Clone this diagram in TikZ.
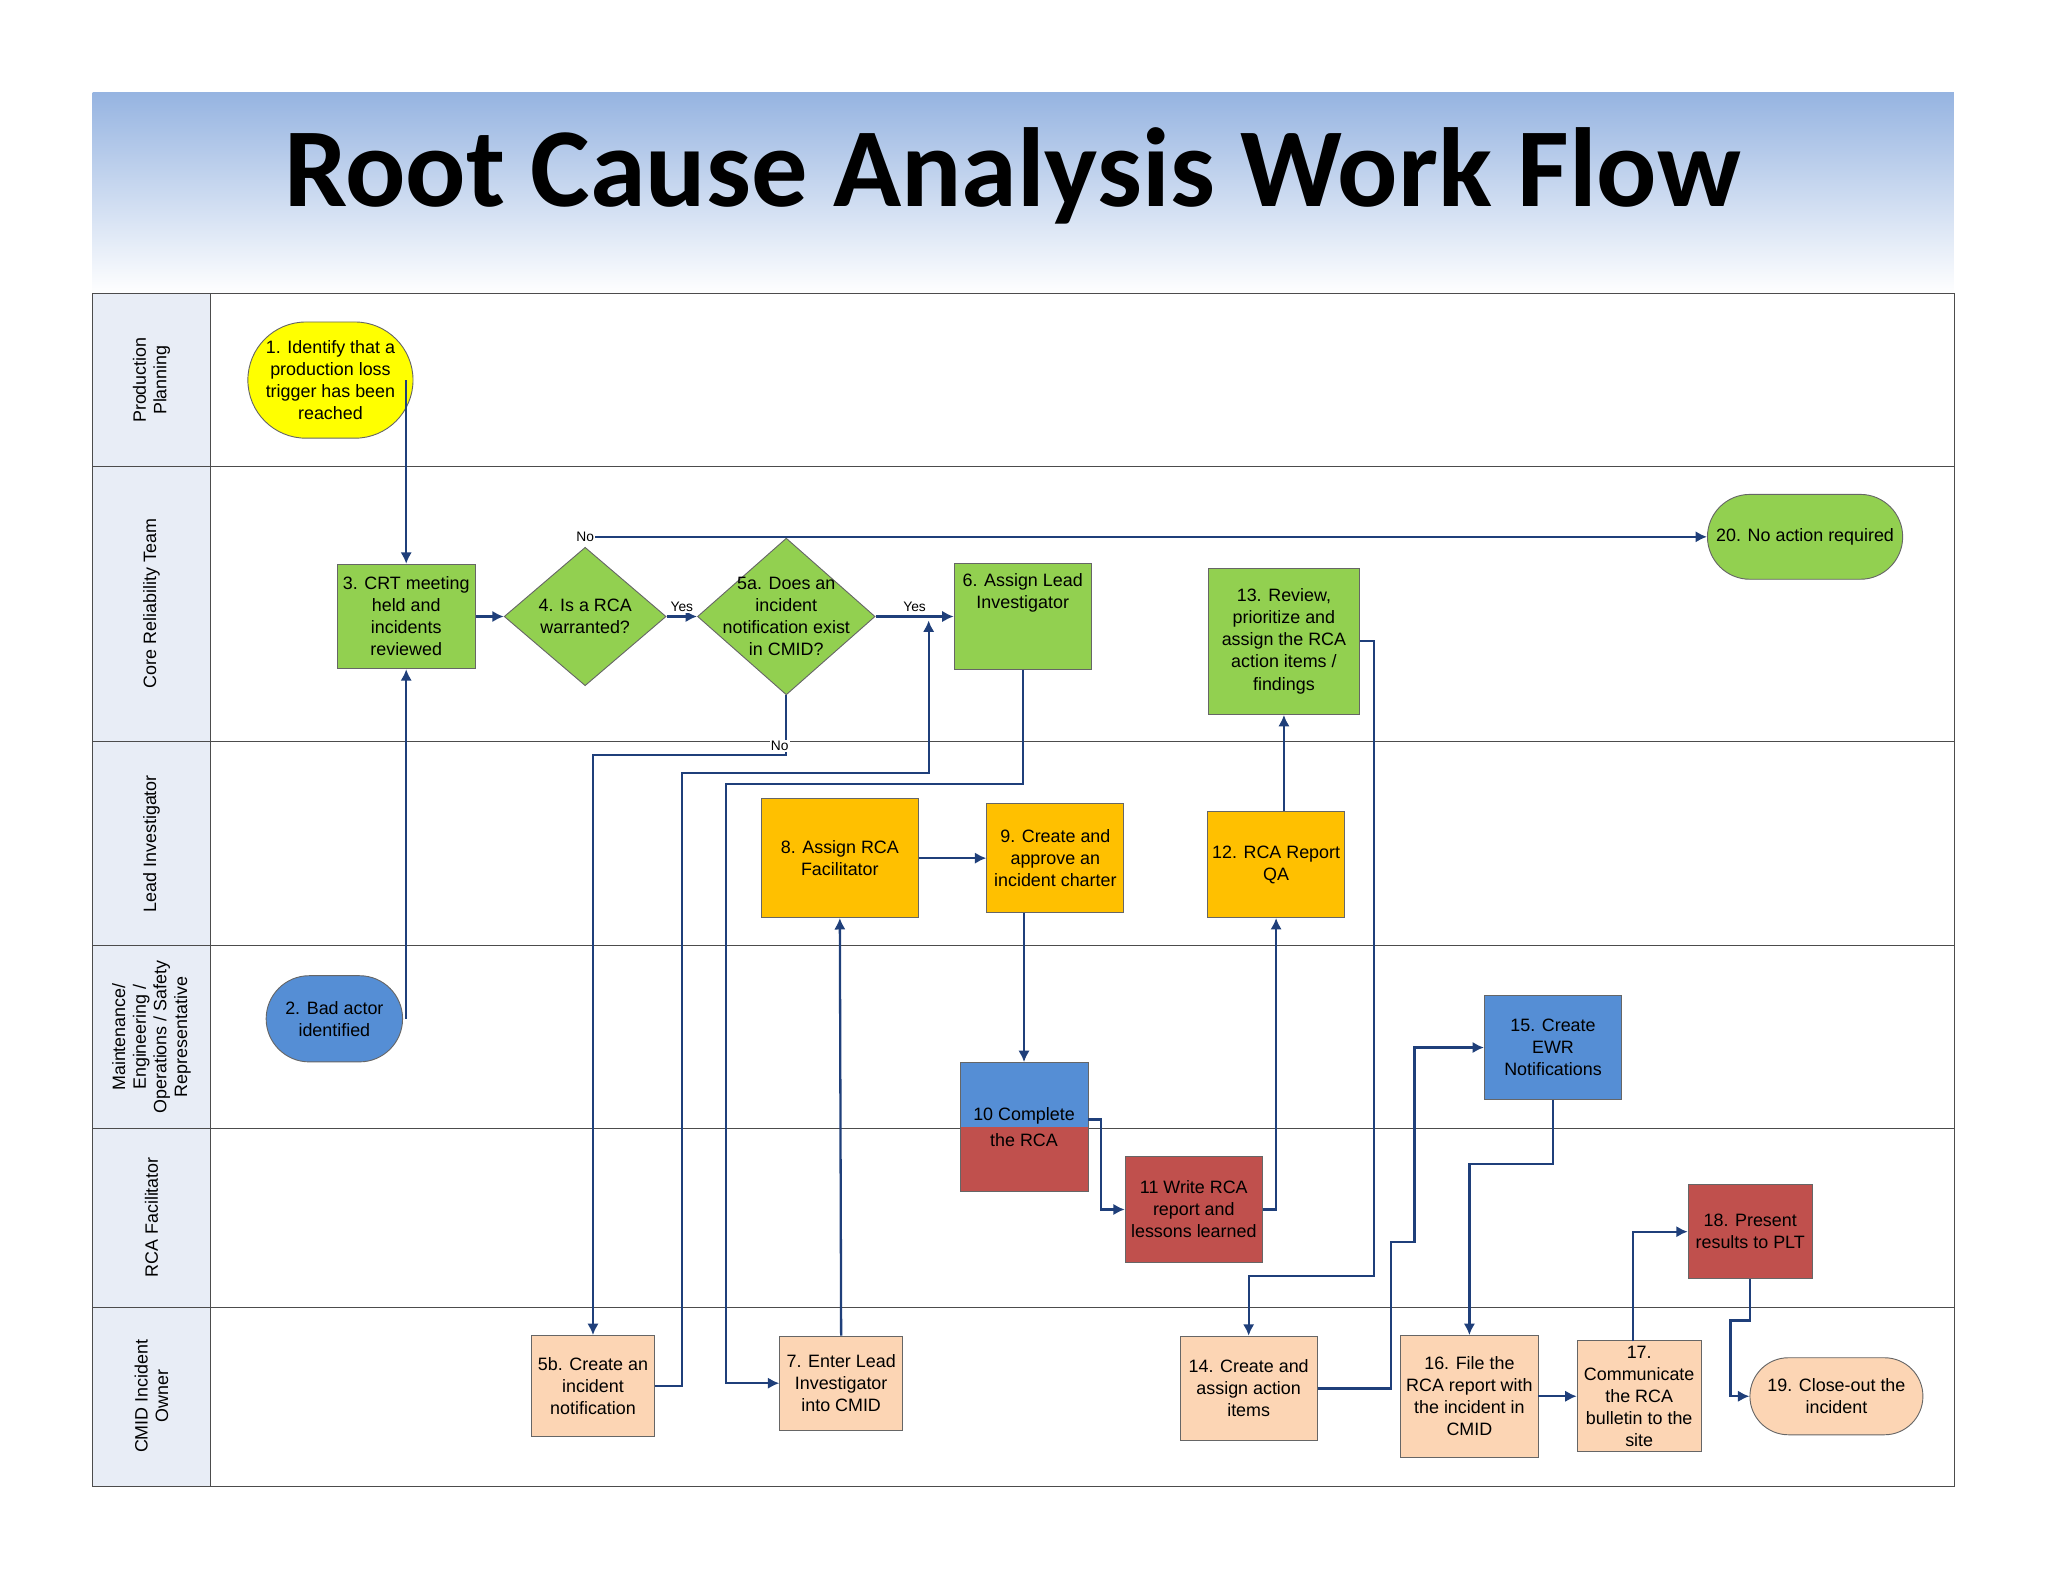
\documentclass[tikz,border=0pt]{standalone}
\usepackage{fontspec}
\setmainfont{Liberation Sans}
\newfontfamily\titlefont{Carlito}
\usetikzlibrary{shapes.geometric,shapes.misc,arrows.meta}

\definecolor{flowline}{RGB}{31,63,122}
\definecolor{stepgreen}{RGB}{146,208,80}
\definecolor{stepyellow}{RGB}{255,255,0}
\definecolor{steporange}{RGB}{255,192,0}
\definecolor{stepblue}{RGB}{85,142,213}
\definecolor{stepred}{RGB}{192,80,77}
\definecolor{steppeach}{RGB}{252,213,180}
\definecolor{lanefill}{RGB}{232,237,246}
\definecolor{titleblue}{RGB}{150,180,225}

\tikzset{
  wfbox/.style={draw=black!60, align=center, inner sep=1pt, font=\fontsize{7.8}{9.6}\selectfont},
  term/.style={wfbox, rounded rectangle},
  decide/.style={draw=black!60, fill=stepgreen, diamond, inner sep=0pt},
  flow/.style={draw=flowline, line width=1pt, -{Latex[length=5pt,width=5pt]}},
  tag/.style={font=\fontsize{6}{7}\selectfont, fill=white, inner sep=0.5pt},
  lane/.style={rotate=90, align=center, font=\fontsize{7.8}{9}\selectfont}
}

\begin{document}
\begin{tikzpicture}[x=0.02cm, y=-0.02cm]
\useasboundingbox (0,0) rectangle (1568,1211);

% title band
\shade[top color=titleblue, bottom color=white] (71,71) rectangle (1496,225);
\node[font=\titlefont\bfseries\fontsize{49}{55}\selectfont] (title) at (775,135) {Root Cause Analysis Work Flow};

% swim lanes
\fill[lanefill] (71,225) rectangle (161,1138);
\draw[black!70] (71,225) rectangle (1496,1138);
\draw[black!70] (161,225) -- (161,1138);
\foreach \y in {357,568,724,864,1001}
  \draw[black!70] (71,\y) -- (1496,\y);

\node[lane] (l1) at (116,291) {Production\\Planning};
\node[lane] (l2) at (116,462) {Core Reliability Team};
\node[lane] (l3) at (116,646) {Lead Investigator};
\node[lane] (l4) at (116,794) {Maintenance/\\Engineering /\\Operations / Safety\\Representative};
\node[lane] (l5) at (116,932) {RCA Facilitator};
\node[lane] (l6) at (116,1069) {CMID Incident\\Owner};

% steps
\node[term, fill=stepyellow, minimum width=2.32cm, minimum height=1.78cm] (n1) at (253,291) {1. Identify that a\\production loss\\trigger has been\\reached};
\node[term, fill=stepblue, minimum width=2.16cm, minimum height=1.32cm] (n2) at (256,780) {2. Bad actor\\identified};
\node[wfbox, fill=stepgreen, minimum width=2.12cm, minimum height=1.6cm] (n3) at (311,472) {3. CRT meeting\\held and\\incidents\\reviewed};
\node[decide, minimum width=2.48cm, minimum height=2.12cm, label={[font=\fontsize{7.8}{9.6}\selectfont, align=center]center:4. Is a RCA\\warranted?}] (n4) at (448,472) {};
\node[decide, minimum width=2.72cm, minimum height=2.4cm, label={[font=\fontsize{7.8}{9.6}\selectfont, align=center]center:5a. Does an\\incident\\notification exist\\in CMID?}] (n5a) at (602,472) {};
\node[wfbox, fill=stepgreen, minimum width=2.1cm, minimum height=1.62cm] (n6) at (783,472) {6. Assign Lead\\Investigator\\[1.6em]};
\node[wfbox, fill=stepgreen, minimum width=2.32cm, minimum height=2.24cm] (n13) at (983,491) {13. Review,\\prioritize and\\assign the RCA\\action items /\\findings};
\node[term, fill=stepgreen, minimum width=3.06cm, minimum height=1.3cm] (n20) at (1382,411) {20. No action required};
\node[wfbox, fill=steporange, minimum width=2.4cm, minimum height=1.82cm] (n8) at (643,657) {8. Assign RCA\\Facilitator};
\node[wfbox, fill=steporange, minimum width=2.1cm, minimum height=1.66cm] (n9) at (808,657) {9. Create and\\approve an\\incident charter};
\node[wfbox, fill=steporange, minimum width=2.1cm, minimum height=1.62cm] (n12) at (977,662) {12. RCA Report\\QA};
\node[wfbox, fill=stepblue, minimum width=1.96cm, minimum height=1.98cm,
  path picture={\fill[stepred] (path picture bounding box.west) rectangle (path picture bounding box.south east);}] (n10) at (784,863) {10 Complete\\[2pt]the RCA};
\node[wfbox, fill=stepblue, minimum width=2.1cm, minimum height=1.6cm] (n15) at (1189,802) {15. Create\\EWR\\Notifications};
\node[wfbox, fill=stepred, minimum width=2.1cm, minimum height=1.62cm] (n11) at (914,926) {11 Write RCA\\report and\\lessons learned};
\node[wfbox, fill=stepred, minimum width=1.9cm, minimum height=1.44cm] (n18) at (1340,943) {18. Present\\results to PLT};
\node[wfbox, fill=steppeach, minimum width=1.88cm, minimum height=1.54cm] (n5b) at (454,1061) {5b. Create an\\incident\\notification};
\node[wfbox, fill=steppeach, minimum width=1.88cm, minimum height=1.44cm] (n7) at (644,1059) {7. Enter Lead\\Investigator\\into CMID};
\node[wfbox, fill=steppeach, minimum width=2.1cm, minimum height=1.6cm] (n14) at (956,1063) {14. Create and\\assign action\\items};
\node[wfbox, fill=steppeach, minimum width=2.1cm, minimum height=1.86cm] (n16) at (1125,1069) {16. File the\\RCA report with\\the incident in\\CMID};
\node[wfbox, fill=steppeach, minimum width=1.9cm, minimum height=1.7cm] (n17) at (1255,1069) {17.\\Communicate\\the RCA\\bulletin to the\\site};
\node[term, fill=steppeach, minimum width=2.72cm, minimum height=1.18cm] (n19) at (1406,1069) {19. Close-out the\\incident};

% bends
\coordinate (b4) at (n4.north |- n20.west);
\coordinate (b5a) at (602,578);
\coordinate (b5b) at (522,592);
\coordinate (b6) at (556,600);
\coordinate (b10) at (843,857);
\coordinate (b13) at (1052,977);
\coordinate (b14) at (1065,951);
\coordinate (b15) at (1189,891);
\coordinate (b18) at (1325,1011);

% connectors
\draw[flow] (n3.north |- n1.east) -- (n3.north);
\draw[flow] (n3.south |- n2.east) -- (n3.south);
\draw[flow] (n3) -- (n4);
\draw[flow] (n4) -- node[tag, above=1pt] (y1) {Yes} (n5a);
\draw[flow] (n5a) -- node[tag, above=1pt] (y2) {Yes} (n6);
\draw[flow] (b4) -- (n20.west);
\node[tag] (no1) at (b4) {No};
\draw[flow] (n5a.south) -- (b5a) -| (n5b.north);
\node[tag] (no2) at (597,571) {No};
\draw[flow] (n5b.east) -| (b5b) -| (711,475);
\draw[flow] (n6.south) |- (b6) |- (n7.west);
\draw[flow] (n7.north) -- (n8.south);
\draw[flow] (n8) -- (n9);
\draw[flow] (n10.north |- n9.south) -- (n10.north);
\draw[flow] (b10 -| n10.east) -| (b10) |- (n11.west);
\draw[flow] (n11.east) -| (n12.south);
\draw[flow] (n13.south |- n12.north) -- (n13.south);
\draw[flow] (n13.east) -| (b13) -| (n14.north);
\draw[flow] (n14.east) -| (b14) -| (1083,802) -- (n15.west);
\draw[flow] (n15.south) -- (b15) -| (n16.north);
\draw[flow] (n16) -- (n17);
\draw[flow] (1250,1027) |- (n18.west);
\draw[flow] (n18.south) |- (b18) |- (n19.west);
\end{tikzpicture}
\end{document}
